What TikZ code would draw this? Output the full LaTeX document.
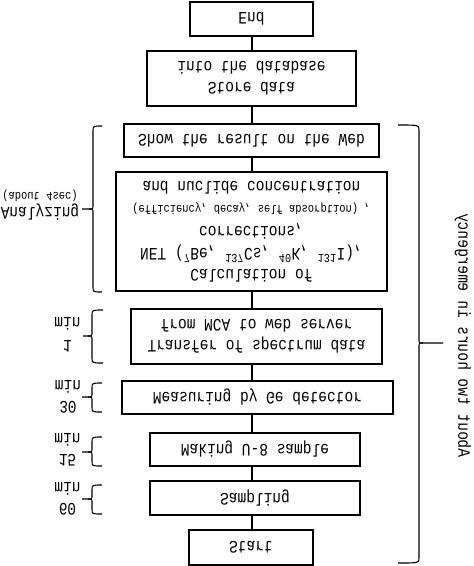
\documentclass[tikz,border=0pt]{standalone}
\usepackage{fontspec}
\setmainfont{Liberation Mono}[FakeStretch=0.83]
\newcommand\mainsz{\fontsize{17.5}{21}\selectfont}
\newcommand\smallsz{\fontsize{12.6}{14}\selectfont}
\newcommand\lbr[6]{% xv xh xt ytop ytip ybot
  \draw[brc] (#2,#4) .. controls (#1,#4) .. (#1,#4+5) -- (#1,#5-4) .. controls (#1,#5) .. (#1-4,#5) -- (#3,#5);
  \draw[brc] (#2,#6) .. controls (#1,#6) .. (#1,#6-5) -- (#1,#5+4) .. controls (#1,#5) .. (#1-4,#5);}
\newcommand\rbr[6]{% xv xh xt ytop ytip ybot
  \draw[brc] (#2,#4) .. controls (#1,#4) .. (#1,#4+5) -- (#1,#5-4) .. controls (#1,#5) .. (#1+4,#5) -- (#3,#5);
  \draw[brc] (#2,#6) .. controls (#1,#6) .. (#1,#6-5) -- (#1,#5+4) .. controls (#1,#5) .. (#1+4,#5);}
\tikzset{
  box/.style={draw, line width=1.1pt, inner sep=0pt, align=center, font=\mainsz},
  lbl/.style={inner sep=0pt, align=center, font=\mainsz},
  brc/.style={line width=1.1pt},
  conn/.style={line width=1.1pt}
}
\begin{document}
\begin{tikzpicture}[x=1pt,y=1pt]
\begin{scope}[yscale=-1, transform shape]
\useasboundingbox (0,0) rectangle (474,566);
\coordinate (sp) at (252,0);
\node[box, minimum width=123, minimum height=34] (end) at (251.5,19) {End};
\node[box, minimum width=209, minimum height=55] (store) at (251.5,78.5) {Store data\\into the database};
\node[box, minimum width=255, minimum height=33] (show) at (251.5,140.5) {Show the result on the Web};
\node[box, minimum width=271, minimum height=119] (calc) at (251.5,231.5)
  {Calculation of\\NET (\textsuperscript{7}Be, \textsuperscript{137}Cs, \textsuperscript{40}K, \textsuperscript{131}I),\\[1pt]corrections,\\{\smallsz (efficiency, decay, self absorption) ,}\\[3pt]and nuclide concentration};
\node[box, minimum width=251, minimum height=55] (transfer) at (256.5,336.5) {Transfer of spectrum data\\from MCA to web server};
\node[box, minimum width=271, minimum height=33] (measure) at (257.5,397.5) {Measuring by Ge detector};
\node[box, minimum width=210, minimum height=33] (making) at (255,449.5) {Making U-8 sample};
\node[box, minimum width=210, minimum height=34] (sampling) at (255,498) {Sampling};
\node[box, minimum width=124, minimum height=35] (start) at (251,547.5) {Start};
\draw[conn] (start.south -| sp) -- (sampling.north -| sp);
\draw[conn] (sampling.south -| sp) -- (making.north -| sp);
\draw[conn] (making.south -| sp) -- (measure.north -| sp);
\draw[conn] (measure.south -| sp) -- (transfer.north -| sp);
\draw[conn] (transfer.south -| sp) -- (calc.north -| sp);
\draw[conn] (calc.south -| sp) -- (show.north -| sp);
\draw[conn] (show.south -| sp) -- (store.north -| sp);
\draw[conn] (store.south -| sp) -- (end.north -| sp);
% braces
\lbr{93}{102}{82}{126}{209}{292}
\lbr{92}{103}{83}{310}{336}{363}
\lbr{92}{102}{82}{383}{397}{412}
\lbr{92}{102}{82}{437}{452}{466}
\lbr{92}{102}{82}{485}{499}{514}
\rbr{419}{398}{443}{125}{343}{563}
% labels
\node[lbl] (ana) at (40,205) {Analyzing\\[-6pt]{\smallsz (about 4sec)}};
\node[lbl] (t1) at (67.5,335) {1\\[2pt]min};
\node[lbl] (t30) at (68,397) {30\\min};
\node[lbl] (t15) at (67.5,450) {15\\min};
\node[lbl] (t60) at (67.5,498.5) {60\\min};
\node[lbl, rotate=-90] (dur) at (463,335.5) {About two hours in emergency};
\end{scope}
\end{tikzpicture}
\end{document}
